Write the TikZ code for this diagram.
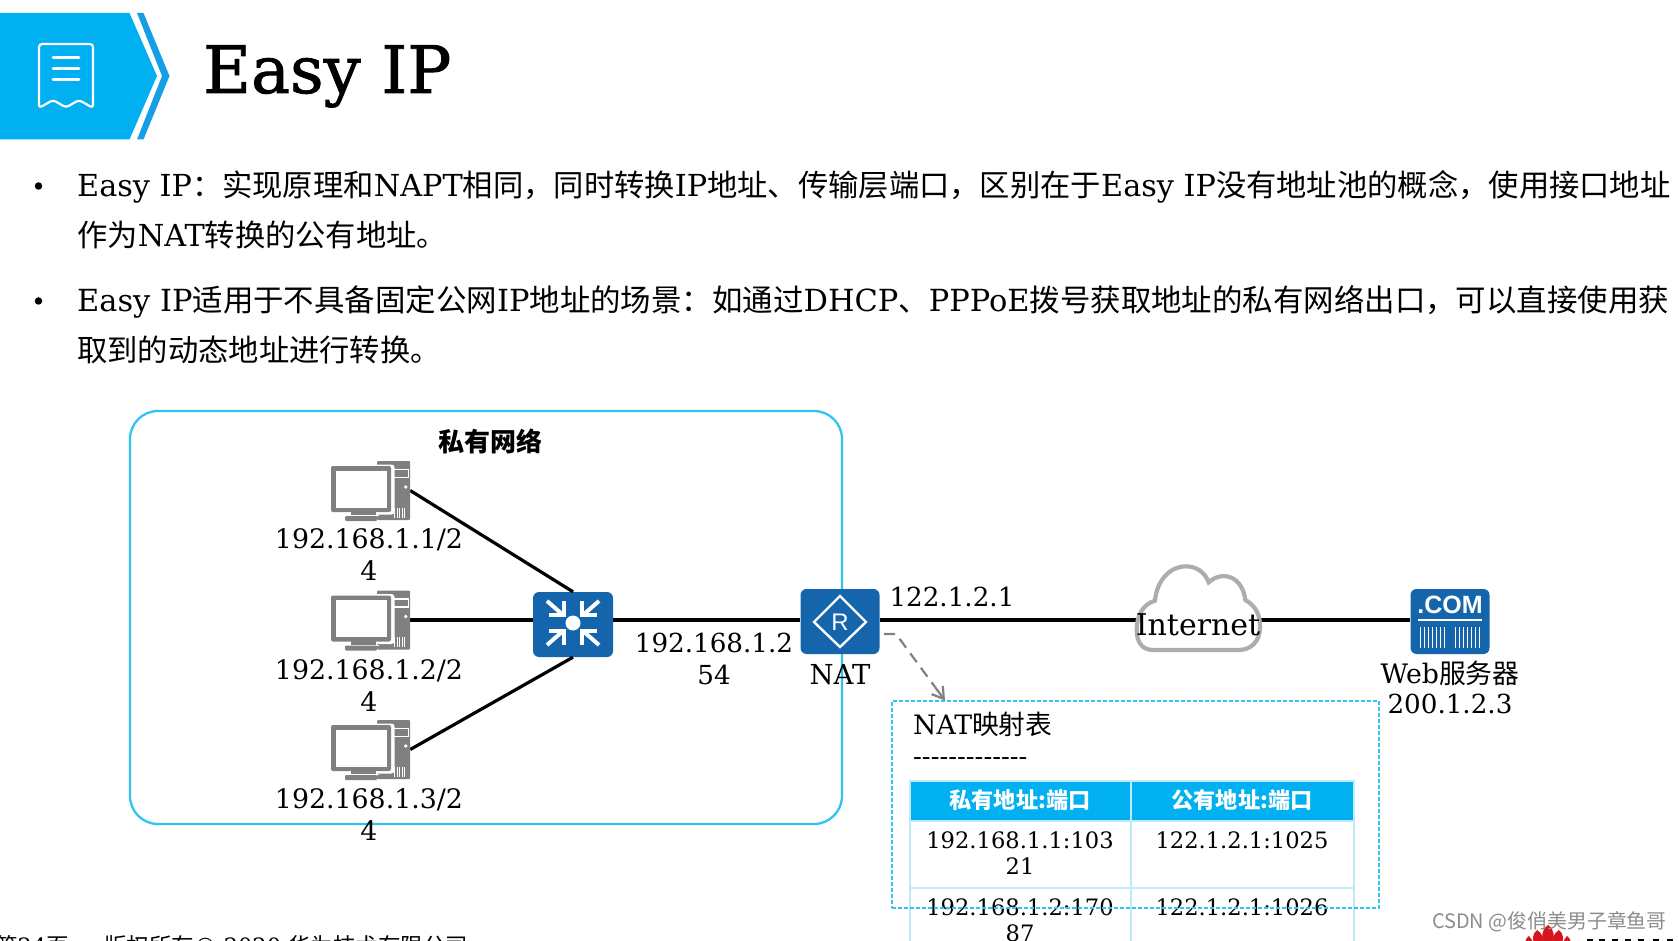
\documentclass[tikz,border=0pt]{standalone}
\usepackage{fontspec}
\setmainfont{DejaVu Serif}
\newfontfamily\cjk{Noto Sans CJK SC}
\newfontfamily\lsans{Liberation Sans}
\newfontfamily\titlefont[FakeBold=1.2]{DejaVu Serif}
\usetikzlibrary{arrows.meta,shapes.geometric}
\newcommand{\zh}[1]{{\cjk #1}}
\newcommand{\fs}[2]{\fontsize{#1}{#2}\selectfont}
\definecolor{hwblue}{HTML}{00B0F0}
\definecolor{chev}{HTML}{169FE6}
\definecolor{devblue}{HTML}{1565AD}
\definecolor{netline}{HTML}{33C3F3}
\definecolor{pcgray}{HTML}{808080}
\definecolor{cellline}{HTML}{C0EAF8}
\definecolor{petal}{HTML}{D8141E}
\tikzset{
 body/.style={anchor=base west,inner sep=0,font=\fs{30.3}{36}},
 bul/.style={circle,fill=black,inner sep=0,minimum size=7.5},
 lab/.style={inner sep=0,align=center,font=\fs{26.8}{32}},
 device/.style={fill=devblue,rounded corners=6,inner sep=0,minimum width=79,minimum height=65},
 link/.style={line width=3.2,black},
 cell/.style={inner sep=0,align=center,font=\fs{22.6}{26}},
 headtxt/.style={inner sep=0,text=white,font=\fs{22.2}{26}\cjk\bfseries},
 pcicon/.pic={
  \fill[pcgray,rounded corners=1] (6.5,-29.5) rectangle (39.5,29.5);
  \draw[white,line width=1.2] (22,-21) rectangle (38,-13);
  \fill[white] (35.2,-3.5) circle (1.8);
  \foreach \vx in {24,26.5,29,31.5,34} {\draw[white,line width=.9] (\vx,17) -- (\vx,27);}
  \fill[white,rounded corners=3] (-41,-26) rectangle (24,24);
  \fill[pcgray,rounded corners=2] (-39.5,-24.5) rectangle (20.5,21.5);
  \fill[white] (-35,-20) rectangle (16,17);
  \fill[pcgray] (-20,21) rectangle (5,24.5);
  \fill[white] (-28,24.5) rectangle (8,25.7);
  \fill[pcgray,rounded corners=1] (-25.5,25.5) rectangle (6.5,30.5);
 }
}
\begin{document}
\begin{tikzpicture}[x=1pt,y=-1pt]
\useasboundingbox (0,0) rectangle (1679,941);
\clip (0,0) rectangle (1679,941);
% banner
\fill[hwblue] (0,13) -- (129.5,13) -- (157,76) -- (129.5,139.5) -- (0,139.5) -- cycle;
\fill[chev] (137,13) -- (143.5,13) -- (169.5,76) -- (143.5,139.5) -- (137,139.5) -- (162,76) -- cycle;
\draw[white,line width=2.2,line join=round,rounded corners=3] (39,50) -- (39,44) -- (93,44) -- (93,108) -- (79,100) -- (66,107.5) -- (53,100) -- (39,108) -- cycle;
\foreach \ly in {57.5,68.5,79.5} {\draw[white,line width=2.6,line cap=round] (53,\ly) -- (79,\ly);}
\node[anchor=base west,inner sep=0,font=\titlefont\fs{65.5}{70}] (title) at (203,93) {Easy IP};
% body
\node[bul] (b1) at (38.5,186) {};
\node[bul] (b2) at (38.5,301) {};
\node[body] (l1) at (77,197) {Easy IP\zh{：实现原理和}NAPT\zh{相同，同时转换}IP\zh{地址、传输层端口，区别在于}Easy IP\zh{没有地址池的概念，使用接口地址}};
\node[body] (l2) at (77,247) {\zh{作为}NAT\zh{转换的公有地址。}};
\node[body,font=\fs{30.45}{36}] (l3) at (77,312) {Easy IP\zh{适用于不具备固定公网}IP\zh{地址的场景：如通过}DHCP\zh{、}PPPoE\zh{拨号获取地址的私有网络出口，可以直接使用获}};
\node[body] (l4) at (77,362) {\zh{取到的动态地址进行转换。}};
% private net
\node[draw=netline,line width=2.3,rounded corners=28,minimum width=712,minimum height=413,inner sep=0] (net) at (486,617.5) {};
\node[inner sep=0,font=\fs{26}{28}\cjk\bfseries] (nettxt) at (490,441) {私有网络};
% devices
\node[inner sep=0,minimum width=79,minimum height=59] (pc1) at (370.5,490.5) {};
\node[inner sep=0,minimum width=79,minimum height=59] (pc2) at (370.5,620) {};
\node[inner sep=0,minimum width=79,minimum height=59] (pc3) at (370.5,749.5) {};
\node[device,minimum width=80] (sw) at (573,624.5) {};
\node[device] (nat) at (840,621.5) {};
\node[device] (srv) at (1450,621.5) {};
\draw[link] (pc1.east) -- (sw.north);
\draw[link] (pc3.east) -- (sw.south);
\draw[link] (pc2.east) -- (pc2.east -| sw.west);
\draw[link] (pc2.east -| sw.east) -- (pc2.east -| nat.west);
\draw[link] (pc2.east -| nat.east) -- (pc2.east -| srv.west);
\pic at (pc1.center) {pcicon};
\pic at (pc2.center) {pcicon};
\pic at (pc3.center) {pcicon};
% switch icon
\begin{scope}[shift={(573,623)},white]
 \fill (0,0) circle (7.5);
 \foreach \sx/\sy in {1/1,-1/1,1/-1,-1/-1} {
  \begin{scope}[xscale=\sx,yscale=\sy]
   \draw[line width=4] (10,8) -- (26,22);
   \draw[line width=4,line join=miter] (9,22) -- (9,8) -- (24,8);
  \end{scope}
 }
\end{scope}
% router icon
\draw[white,line width=2.4,line join=miter] (840,596) -- (866,622) -- (840,647) -- (814,622) -- cycle;
\node[inner sep=0,text=white,font=\lsans\fs{24}{26}] (rlet) at (840,622) {R};
% server icon
\node[inner sep=0,text=white,font=\lsans\bfseries\fs{25}{28}] (com) at (1450,605) {.COM};
\draw[white,line width=1.6] (1418,620) -- (1482,620);
\foreach \bx in {1420.5,1424.5,1428.5,1432.5,1436.5,1440.5,1444.5,1455.5,1459.5,1463.5,1467.5,1471.5,1475.5,1479.5} {\draw[white,line width=1.2] (\bx,627) -- (\bx,648);}
% cloud
\begin{scope}[shift={(1120,550)},scale=1/3]
 \draw[draw=black!32,line width=4.2,fill=white] (100,300) .. controls (65,300) and (50,275) .. (50,240) .. controls (50,195) and (70,162) .. (105,152) .. controls (110,92) and (150,49) .. (197,49) .. controls (230,49) and (255,67) .. (266,97) .. controls (310,58) and (368,82) .. (376,150) .. controls (405,167) and (420,190) .. (420,230) .. controls (420,275) and (393,300) .. (355,300) -- cycle;
\end{scope}
\node[inner sep=0,font=\fs{30}{32}] (inet) at (1198,625) {Internet};
% NAT mapping arrow
\coordinate (dstart) at (884,634);
\coordinate (dbend) at (896,634);
\coordinate (dtip) at (935,687);
\coordinate (dend) at (945,700.5);
\draw[pcgray,line width=2.2,dash pattern=on 11pt off 7pt] (dstart) -- (dbend) -- (dtip);
\draw[pcgray,-{Straight Barb[length=11pt,width=14pt,line width=2.2pt]},line width=2.2] (dtip) -- (dend);
% labels
\node[lab] (ip1) at (369,555) {192.168.1.1/2\\4};
\node[lab] (ip2) at (369,686) {192.168.1.2/2\\4};
\node[lab] (ip3) at (369,815) {192.168.1.3/2\\4};
\node[lab,font=\fs{26.2}{32}] (gw) at (714,659) {192.168.1.2\\54};
\node[lab,font=\fs{26.2}{32}] (pub) at (952,597) {122.1.2.1};
\node[lab,font=\fs{27.5}{32}] (natl) at (840,675) {NAT};
\node[lab] (web) at (1450,673) {Web\zh{服务器}};
\node[lab,font=\fs{26.2}{32}] (webip) at (1450,704) {200.1.2.3};
% table
\fill[hwblue] (910,781) rectangle (1354,820);
\draw[cellline,line width=1.6] (910,781) rectangle (1354,960);
\draw[cellline,line width=1.6] (1131,781) -- (1131,960);
\draw[cellline,line width=1.6] (910,821) -- (1354,821);
\draw[cellline,line width=1.6] (910,888) -- (1354,888);
\node[headtxt] (h1) at (1020,800) {私有地址:端口};
\node[headtxt] (h2) at (1242,800) {公有地址:端口};
\node[cell] (c1) at (1020,853) {192.168.1.1:103\\21};
\node[cell] (c2) at (1242,840) {122.1.2.1:1025};
\node[cell] (c3) at (1020,920) {192.168.1.2:170\\87};
\node[cell] (c4) at (1242,907) {122.1.2.1:1026};
% NAT box
\node[draw=netline,line width=1.1,dashed,dash pattern=on 4pt off 2pt,minimum width=487,minimum height=207,inner sep=0] (box) at (1135.5,804.5) {};
\node[anchor=west,inner sep=0,font=\fs{26.7}{28}] (boxt) at (913,724) {NAT\zh{映射表}};
\node[anchor=west,inner sep=0,font=\fs{26}{28}] (boxd) at (913,762) {-{}-{}-{}-{}-{}-{}-{}-{}-{}-{}-{}-{}-};
% footer
\node[anchor=base west,inner sep=0,font=\fs{22.5}{26}] (f1) at (-5,954) {\zh{第}24\zh{页}};
\node[anchor=base west,inner sep=0,font=\fs{22.5}{26}] (f2) at (104,954) {\zh{版权所有}© 2020 \zh{华为技术有限公司}};
% Huawei logo, cut by the page edge
\fill[petal] (1548,925) .. controls (1541,930) and (1541,937) .. (1545,945) -- (1551,945) .. controls (1555,937) and (1555,930) .. (1548,925) -- cycle;
\fill[petal] (1537,930) .. controls (1532,934) and (1532,940) .. (1535,945) -- (1544,945) .. controls (1544,938) and (1542,933) .. (1537,930) -- cycle;
\fill[petal] (1559,930) .. controls (1564,934) and (1564,940) .. (1561,945) -- (1552,945) .. controls (1552,938) and (1554,933) .. (1559,930) -- cycle;
\fill[petal] (1529,936) .. controls (1526,938) and (1525,941) .. (1525,945) -- (1533,945) .. controls (1533,941) and (1531,938) .. (1529,936) -- cycle;
\fill[petal] (1567,936) .. controls (1570,938) and (1571,941) .. (1571,945) -- (1563,945) .. controls (1563,941) and (1565,938) .. (1567,936) -- cycle;
\foreach \hx in {1587,1599,1612,1625,1638,1653,1667} {\fill[black] (\hx,939) rectangle ++(6,3);}
% watermark
\node[anchor=west,inner sep=0,text=black!45,font=\fs{19.9}{22}\cjk] (wm) at (1432,922) {CSDN @俊俏美男子章鱼哥};
\end{tikzpicture}
\end{document}
